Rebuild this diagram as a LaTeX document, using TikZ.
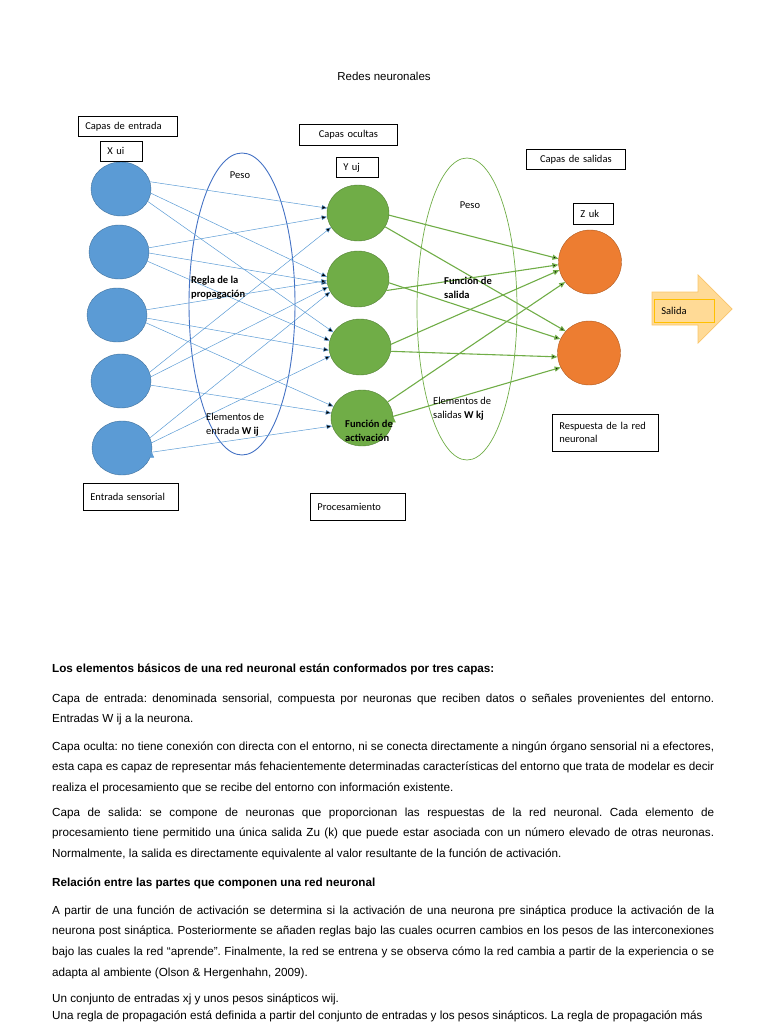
\documentclass[tikz,border=0pt]{standalone}
\usepackage{fontspec}
\setmainfont{Liberation Sans}
\newfontfamily\calibri{Carlito}
\usetikzlibrary{arrows.meta,shapes.geometric}
\hyphenpenalty=10000
\exhyphenpenalty=10000
\frenchspacing
\definecolor{inblue}{HTML}{5B9BD5}
\definecolor{inedge}{HTML}{41719C}
\definecolor{ringblue}{HTML}{4472C4}
\definecolor{hidgreen}{HTML}{70AD47}
\definecolor{hidedge}{HTML}{507E32}
\definecolor{outorange}{HTML}{ED7D31}
\definecolor{outedge}{HTML}{AE5A21}
\definecolor{salfill}{HTML}{FFDA96}
\definecolor{saledge}{HTML}{F9C56B}
\definecolor{salbox}{HTML}{FFC000}
\newcommand\labfont{\calibri\fontsize{10.5}{14}\selectfont}
\newcommand\bodyfont{\fontsize{11.7}{20.7}\selectfont}

\begin{document}
\begin{tikzpicture}[x=1pt,y=-1pt,
 neuronx/.style={ellipse,draw=inedge,fill=inblue,minimum width=60pt,minimum height=54pt,inner sep=0},
 neurony/.style={ellipse,draw=hidedge,fill=hidgreen,minimum width=62pt,minimum height=56pt,inner sep=0},
 neuronz/.style={ellipse,draw=outedge,fill=outorange,minimum width=63pt,minimum height=64pt,inner sep=0},
 tag/.style={draw,line width=0.7pt,inner xsep=7pt,inner ysep=0pt,align=left,anchor=north west,font=\labfont},
 lab/.style={inner sep=0,align=left,font=\labfont},
 labb/.style={lab,font=\labfont\bfseries},
 wblue/.style={draw=inblue,line width=0.5pt,-{Triangle[length=5.5pt,width=4.5pt]}},
 wgreen/.style={draw=hidgreen,line width=1.1pt,-{Triangle[length=6pt,width=5pt]}},
 para/.style={anchor=base west,text width=662pt,align=justify,inner sep=0,font=\bodyfont}]
\useasboundingbox (0,0) rectangle (768,1024);

\node[font=\fontsize{11.5}{14}\selectfont] (title) at (384,76) {Redes neuronales};

% weight ellipses
\node[ellipse,draw=ringblue,line width=0.9pt,minimum width=106pt,minimum height=302pt] (ringin) at (242,304) {};
\node[ellipse,draw=hidgreen,line width=0.7pt,minimum width=100pt,minimum height=302pt] (ringout) at (467,309) {};

% layers
\node[neuronx] (i1) at (121,189) {};
\node[neuronx] (i2) at (119,252) {};
\node[neuronx] (i3) at (117,315) {};
\node[neuronx] (i4) at (121,381) {};
\node[neuronx] (i5) at (122,448) {};
\node[neurony] (h1) at (358,213) {};
\node[neurony] (h2) at (358,279) {};
\node[neurony] (h3) at (360,347) {};
\node[neurony] (h4) at (362,418) {};
\node[neuronz] (o1) at (590,262) {};
\node[neuronz] (o2) at (589,353) {};

\path[wblue]
 (i1.14) edge (h1.171)
 (i1.-8) edge (h2.176)
 (i1.-25) edge (h3.151)
 (i2.8) edge (h1.187)
 (i2.-2) edge (h2.188)
 (i2.-18) edge (h3.168)
 (i3.10) edge (h2.183)
 (i3.-6) edge (h3.186)
 (i3.-15) edge (h4.158)
 (i4.17) edge (h1.208)
 (i4.8) edge (h2.195)
 (i4.-8) edge (h4.171)
 (i5.20) edge (h2.205)
 (i5.10) edge (h3.197)
 (i5.-8) edge (h4.195);

\path[wgreen]
 (h1.-4) edge (o1.174)
 (h1.-27) edge (o2.137)
 (h2.-22) edge (o1.185)
 (h2.-7) edge (o2.154)
 (h3.5) edge (o1.195)
 (h3.-8) edge (o2.187)
 (h4.32) edge (o1.219)
 (h4.3) edge (o2.207);

% labels
\node[lab] (peso1) at (240,175) {Peso};
\node[labb,anchor=west] (regla) at (191,288) {Regla de la\\propagación};
\node[lab,anchor=west] (elemin) at (206,425) {Elementos de\\entrada \textbf{W ij}};
\node[labb,anchor=west] (fact) at (345,431) {Función de\\activación};
\node[lab] (peso2) at (470,205) {Peso};
\node[labb,anchor=west] (fsal) at (444,288) {Función de\\salida};
\node[lab,anchor=west] (elemout) at (433,409) {Elementos de\\salidas \textbf{W kj}};

\node[tag,text width=85pt,minimum height=20pt] (cin) at (78,116) {Capas de entrada};
\node[tag,text width=28pt,minimum height=20pt] (xui) at (100,141) {X ui};
\node[tag,text width=84pt,minimum height=21pt,align=center] (coc) at (299,124) {Capas ocultas};
\node[tag,text width=28pt,minimum height=20pt] (yuj) at (336,157) {Y uj};
\node[tag,text width=85pt,minimum height=20pt,align=center] (csa) at (526,149) {Capas de salidas};
\node[tag,text width=26pt,minimum height=21pt] (zuk) at (573,203) {Z uk};
\node[tag,text width=81pt,minimum height=27pt] (ens) at (83,483) {Entrada sensorial};
\node[tag,text width=81pt,minimum height=27pt] (pro) at (310,493) {Procesamiento};
\node[tag,text width=92pt,minimum height=37pt,font=\calibri\fontsize{10.5}{13}\selectfont] (rsp) at (552,414) {Respuesta de la red\\neuronal};

% output arrow
\draw[fill=salfill,draw=saledge,line width=0.7pt] (652,292) -- (698,292) -- (698,275) -- (732,309) -- (698,343) -- (698,325) -- (652,325) -- cycle;
\node[tag,draw=salbox,fill=salfill,text width=46pt,minimum height=23pt] (sal) at (654,299) {Salida};

% text
\node[para] (t1) at (52,672) {\textbf{Los elementos básicos de una red neuronal están conformados por tres capas:}};
\node[para] (t2) at (52,702) {Capa de entrada: denominada sensorial, compuesta por neuronas que reciben datos o señales provenientes del entorno.\linebreak Entradas W ij a la neurona.};
\node[para] (t3) at (52,750) {Capa oculta: no tiene conexión con directa con el entorno, ni se conecta directamente a ningún órgano sensorial ni a efectores,\linebreak esta capa es capaz de representar más fehacientemente determinadas características del entorno que trata de modelar es decir\linebreak realiza el procesamiento que se recibe del entorno con información existente.};
\node[para] (t4) at (52,816) {Capa de salida: se compone de neuronas que proporcionan las respuestas de la red neuronal. Cada elemento de\linebreak procesamiento tiene permitido una única salida Zu (k) que puede estar asociada con un número elevado de otras neuronas.\linebreak Normalmente, la salida es directamente equivalente al valor resultante de la función de activación.};
\node[para] (t5) at (52,886) {\textbf{Relación entre las partes que componen una red neuronal}};
\node[para] (t6) at (52,914) {A partir de una función de activación se determina si la activación de una neurona pre sináptica produce la activación de la\linebreak neurona post sináptica. Posteriormente se añaden reglas bajo las cuales ocurren cambios en los pesos de las interconexiones\linebreak bajo las cuales la red “aprende”. Finalmente, la red se entrena y se observa cómo la red cambia a partir de la experiencia o se\linebreak adapta al ambiente (Olson \& Hergenhahn, 2009).};
\node[para] (t7) at (52,1002) {Un conjunto de entradas xj y unos pesos sinápticos wij.};
\node[para] (t8) at (52,1019) {\parfillskip=0pt Una regla de propagación está definida a partir del conjunto de entradas y los pesos sinápticos. La regla de propagación más};
\end{tikzpicture}
\end{document}
